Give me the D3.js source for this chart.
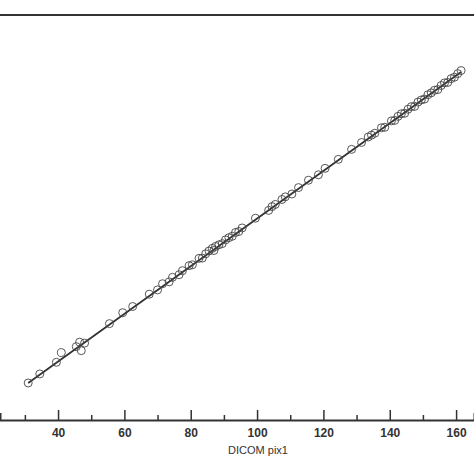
<!DOCTYPE html>
<html><head><meta charset="utf-8">
<script src="https://cdn.jsdelivr.net/npm/d3@7"></script>
<style>body{margin:0;background:#fff}</style></head>
<body><svg id="c" width="474" height="474"></svg>
<script>
const xVals=[31,34.5,39.5,41,45.5,46.5,47,48,55.5,59.5,62.5,67.5,70,71.5,73.5,74.5,76.5,77.5,79.5,80.5,82.5,83.5,84.5,85.5,86.5,87,87.5,88.5,89.5,90.5,91.5,92.5,93.5,94.5,95.5,99.5,103.5,104.5,105.5,107.5,108.5,110.5,112.5,115.5,118.5,120.5,124.5,128.5,131.5,133.5,134.5,135.5,137.5,138.5,140.5,141.5,142.5,143.5,144.5,145.5,146.5,147.5,148.5,149.5,150.5,151.5,152.5,153.5,154.5,155.5,156.5,157.5,158.5,159.5,160.5,161.5];
const yVals=[30,33.8,38.7,42.8,45.3,47.2,43.6,46.8,55,59.6,62.2,67.4,69.2,71.8,72.6,74.5,75.6,77.3,79.4,79.8,82.5,82.6,84.4,85.6,86.7,85.8,87.5,88.2,88.7,90.3,91.2,91.8,93.4,93.8,95.3,99.4,102.7,104.3,105.2,107.3,108.4,109.6,112.3,115.4,117.7,120.4,124.2,128.4,131.3,133.6,134.4,135.2,137.5,137.7,140.4,140.6,142.3,143.4,143.6,145.3,146.4,146.5,148.3,149.2,149.6,151.4,152.2,153.3,153.6,155.3,156.4,156.6,158.2,158.8,160.3,161.6];
const xTicks=[40,60,80,100,120,140,160];
const svg=d3.select("#c");
const x=d3.scaleLinear().domain([22.5,165.4]).range([0,474]);
const y=d3.scaleLinear().domain([14.4,185]).range([420,15]);
svg.append("line").attr("x1",0).attr("x2",474).attr("y1",15).attr("y2",15).attr("stroke","#333").attr("stroke-width",2);
const ax=svg.append("g").attr("transform","translate(0,420)").call(d3.axisBottom(x).tickValues(d3.range(30,170,10)).tickSize(-7).tickFormat(d=>xTicks.includes(d)?d:""));
ax.select(".domain").attr("stroke","#333").attr("stroke-width",2);
ax.selectAll(".tick line").attr("stroke","#333").attr("stroke-width",1.5).attr("y2",d=>xTicks.includes(d)?-10:-5);
ax.selectAll(".tick text").attr("y",8).attr("font-family","Arial, Liberation Sans").attr("font-size",12).attr("font-weight","bold").attr("fill","#333");
svg.append("text").attr("x",258).attr("y",454).attr("text-anchor","middle").attr("font-family","Arial, Liberation Sans").attr("font-size",11).attr("fill","#333").text("DICOM pix1");
svg.append("line").attr("x1",x(31)).attr("y1",y(30)).attr("x2",x(161.5)).attr("y2",y(161)).attr("stroke","#333").attr("stroke-width",1.8);
svg.append("g").selectAll("circle").data(xVals).join("circle").attr("cx",d=>x(d)).attr("cy",(d,i)=>y(yVals[i])).attr("r",4).attr("fill","none").attr("stroke","#444").attr("stroke-width",0.9);
</script></body></html>
